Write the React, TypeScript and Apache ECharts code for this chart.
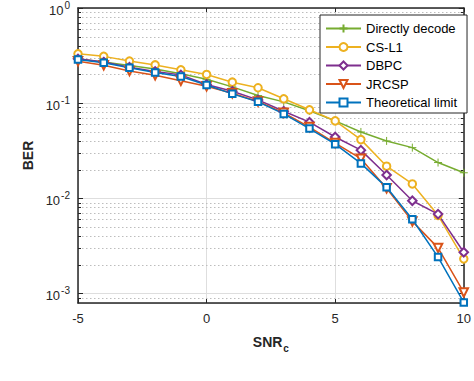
import React, { useEffect, useRef } from 'react';
import * as echarts from 'echarts';

const SNR = [-5, -4, -3, -2, -1, 0, 1, 2, 3, 4, 5, 6, 7, 8, 9, 10];
const DIRECT = [0.290, 0.270, 0.248, 0.228, 0.203, 0.178, 0.148, 0.120, 0.103, 0.083, 0.065, 0.0497, 0.0400, 0.0340, 0.0237, 0.0185];
const CSL1 = [0.330, 0.310, 0.277, 0.252, 0.224, 0.200, 0.166, 0.145, 0.111, 0.085, 0.065, 0.0413, 0.0217, 0.0141, 0.0066, 0.0023];
const DBPC = [0.292, 0.270, 0.238, 0.215, 0.198, 0.157, 0.133, 0.108, 0.082, 0.063, 0.044, 0.032, 0.0175, 0.0094, 0.0068, 0.0027];
const JRCSP = [0.276, 0.250, 0.218, 0.196, 0.172, 0.150, 0.127, 0.104, 0.079, 0.056, 0.038, 0.026, 0.0127, 0.0057, 0.0030, 0.00102];
const THEORY = [0.288, 0.265, 0.235, 0.210, 0.190, 0.155, 0.125, 0.103, 0.077, 0.054, 0.037, 0.0232, 0.0130, 0.0060, 0.0024, 0.00080];

const NAMES = ['Directly decode', 'CS-L1', 'DBPC', 'JRCSP', 'Theoretical limit'];
const MINOR = [
  0.0009,
  0.002, 0.003, 0.004, 0.005, 0.006, 0.007, 0.008, 0.009,
  0.02, 0.03, 0.04, 0.05, 0.06, 0.07, 0.08, 0.09,
  0.2, 0.3, 0.4, 0.5, 0.6, 0.7, 0.8, 0.9,
];
const X_MIN = -5;
const X_MAX = 10;
const Y_MIN = 0.00079;
const Y_MAX = 1;

const FONT = '"Liberation Sans", Arial, Helvetica, sans-serif';
const AX = '#262626';

export default function App() {
  const ref = useRef<HTMLDivElement>(null);
  useEffect(() => {
    if (!ref.current) return;
    const chart = echarts.init(ref.current, null, { renderer: 'svg' });
    const mk = (
      name: string,
      data: number[],
      color: string,
      symbol: string,
      size: number,
      extra: any = {}
    ) => ({
      name,
      type: 'line',
      data: SNR.map((x, i) => [x, data[i]]),
      symbol,
      symbolSize: size,
      showAllSymbol: true,
      lineStyle: { color, width: 1.5 },
      itemStyle: { color, borderColor: color, borderWidth: 1 },
      z: 3,
      ...extra,
    });
    const yLabelFmt = (v: number) => `{b|10}{s|${Math.round(Math.log10(v))}}`;
    chart.setOption({
      animation: false,
      textStyle: { fontFamily: FONT },
      grid: { left: 78, right: 7, top: 7, bottom: 78 },
      legend: {
        data: NAMES,
        orient: 'vertical',
        left: 320,
        top: 15,
        itemWidth: 35,
        itemHeight: 10,
        itemGap: 5.5,
        padding: [7, 10, 4, 5],
        backgroundColor: '#fff',
        borderColor: AX,
        borderWidth: 1,
        borderRadius: 0,
        textStyle: { fontSize: 13, color: '#000', fontFamily: FONT, lineHeight: 12 },
      },
      xAxis: [
        {
          type: 'value',
          min: X_MIN,
          max: X_MAX,
          interval: 5,
          name: '{a|SNR}{b|c}',
          nameLocation: 'middle',
          nameGap: 28,
          nameTextStyle: {
            rich: {
              a: { fontSize: 14, fontWeight: 'bold', color: AX, fontFamily: FONT },
              b: { fontSize: 10, fontWeight: 'bold', color: AX, fontFamily: FONT, padding: [12, 0, 0, 1] },
            },
          },
          axisLine: { show: true, onZero: false, lineStyle: { color: AX, width: 1.5 } },
          axisTick: { show: true, inside: true, length: 4, lineStyle: { color: AX } },
          axisLabel: { fontSize: 13, color: AX, margin: 9, fontFamily: FONT },
          splitLine: { show: true, lineStyle: { color: '#dedede', width: 1 } },
        },
        {
          type: 'value',
          position: 'top',
          min: X_MIN,
          max: X_MAX,
          interval: 5,
          axisLine: { show: true, onZero: false, lineStyle: { color: AX, width: 1.5 } },
          axisTick: { show: true, inside: true, length: 4, lineStyle: { color: AX } },
          axisLabel: { show: false },
          splitLine: { show: false },
        },
      ],
      yAxis: [
        {
          type: 'log',
          logBase: 10,
          min: Y_MIN,
          max: Y_MAX,
          position: 'left',
          name: 'BER',
          nameLocation: 'middle',
          nameGap: 38,
          nameTextStyle: { fontSize: 14, fontWeight: 'bold', color: AX, fontFamily: FONT },
          axisLine: { show: true, onZero: false, lineStyle: { color: AX, width: 1.5 } },
          axisTick: { show: true, inside: true, length: 5, lineStyle: { color: AX } },
          axisLabel: {
            showMinLabel: false,
            margin: 8,
            formatter: yLabelFmt,
            rich: {
              b: { fontSize: 13, color: AX, fontFamily: FONT, padding: [4, 0, 0, 0] },
              s: { fontSize: 10, color: AX, fontFamily: FONT, padding: [0, 0, 6, 1] },
            },
          },
          splitLine: { show: true, lineStyle: { color: '#dedede', width: 1 } },
        },
        {
          type: 'log',
          logBase: 10,
          min: Y_MIN,
          max: Y_MAX,
          position: 'right',
          axisLine: { show: true, onZero: false, lineStyle: { color: AX, width: 1.5 } },
          axisTick: { show: true, inside: true, length: 5, lineStyle: { color: AX } },
          axisLabel: { show: false },
          splitLine: { show: false },
        },
      ],
      series: [
        {
          name: 'minor',
          type: 'custom',
          silent: true,
          z: 1,
          xAxisIndex: 0,
          yAxisIndex: 0,
          data: MINOR.map((v) => [X_MIN, v]),
          renderItem: (params: any, api: any) => {
            const v = api.value(1);
            const p = api.coord([X_MIN, v]);
            const cs = params.coordSys;
            const y = Math.round(p[1]) + 0.5;
            return {
              type: 'group',
              children: [
                {
                  type: 'line',
                  shape: { x1: cs.x, y1: y, x2: cs.x + cs.width, y2: y },
                  style: { stroke: '#bdbdbd', lineWidth: 1, lineDash: [1.5, 2.5] },
                },
                {
                  type: 'line',
                  shape: { x1: cs.x, y1: y, x2: cs.x + 3, y2: y },
                  style: { stroke: AX, lineWidth: 1 },
                },
                {
                  type: 'line',
                  shape: { x1: cs.x + cs.width - 3, y1: y, x2: cs.x + cs.width, y2: y },
                  style: { stroke: AX, lineWidth: 1 },
                },
              ],
            };
          },
        },
        mk('Directly decode', DIRECT, '#77AC30', 'path://M0,5L10,5M5,0L5,10', 8),
        mk('CS-L1', CSL1, '#EDB120', 'emptyCircle', 7.5),
        mk('DBPC', DBPC, '#7E2F8E', 'emptyDiamond', 8.5),
        mk('JRCSP', JRCSP, '#D95319', 'emptyTriangle', 8.5, { symbolRotate: 180 }),
        mk('Theoretical limit', THEORY, '#0072BD', 'emptyRect', 6.5),
      ],
    });
    return () => chart.dispose();
  }, []);
  return <div ref={ref} style={{ width: 474, height: 381, position: 'absolute', left: 0, top: 0 }} />;
}
